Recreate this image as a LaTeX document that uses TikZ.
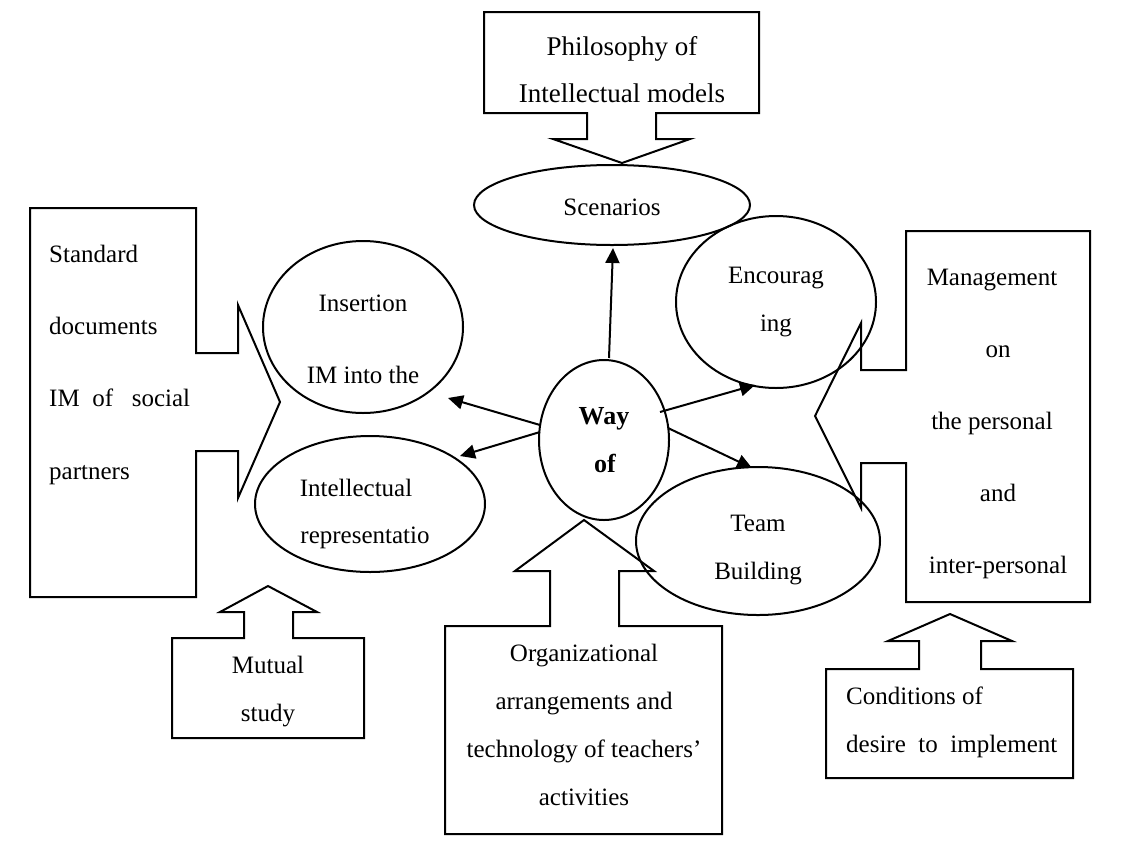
\documentclass[tikz,border=0pt]{standalone}
\usepackage{fontspec}
\setmainfont{Liberation Serif}
\usetikzlibrary{arrows.meta}
\begin{document}
\begin{tikzpicture}[x=1pt,y=-1pt,
  ln/.style={line width=2pt,line join=miter},
  ar/.style={line width=2pt,-{Triangle[length=15pt,width=14pt]}},
  t/.style={font=\fontsize{25}{28}\selectfont,inner sep=0pt,anchor=base west},
  tc/.style={font=\fontsize{25}{28}\selectfont,inner sep=0pt,anchor=base}]
\useasboundingbox (0,0) rectangle (1126,865);
% callout boxes
\draw[ln] (484,12)--(759,12)--(759,113)--(656,113)--(656,139)--(690,139)--(622,163)--(553,139)--(587,139)--(587,113)--(484,113)--cycle;
\draw[ln] (30,208)--(196,208)--(196,353)--(238,353)--(238,305)--(280,402)--(238,498)--(238,451)--(196,451)--(196,597)--(30,597)--cycle;
\draw[ln] (906,231)--(1090,231)--(1090,602)--(906,602)--(906,463)--(861,463)--(861,508)--(815,416)--(861,323)--(861,370)--(906,370)--cycle;
\draw[ln] (172,638)--(244,638)--(244,612)--(220,612)--(268,586)--(317,612)--(293,612)--(293,638)--(364,638)--(364,738)--(172,738)--cycle;
\draw[ln] (445,626)--(550,626)--(550,571)--(515,571)--(584,520)--(654,571)--(619,571)--(619,626)--(722,626)--(722,834)--(445,834)--cycle;
\draw[ln] (826,669)--(919,669)--(919,641)--(888,641)--(950,614)--(1012,641)--(981,641)--(981,669)--(1073,669)--(1073,778)--(826,778)--cycle;
% ellipses
\draw[ln] (612,205) ellipse [x radius=138,y radius=40];
\draw[ln] (363,327) ellipse [x radius=100,y radius=86];
\draw[ln] (370,504) ellipse [x radius=115,y radius=68];
\draw[ln] (604,440) ellipse [x radius=65,y radius=80];
\draw[ln] (776,302) ellipse [x radius=100,y radius=86];
\draw[ln] (758,541) ellipse [x radius=122,y radius=74];
\coordinate (w1) at (609,358); \coordinate (s1) at (613,248);
\coordinate (w2) at (540,425); \coordinate (i1) at (448,398);
\coordinate (w3) at (540,432); \coordinate (r1) at (460,456);
\coordinate (w4) at (660,412); \coordinate (e1) at (755,385);
\coordinate (w5) at (668,428); \coordinate (b1) at (752,468);
\draw[ar] (w1)--(s1);
\draw[ar] (w2)--(i1);
\draw[ar] (w3)--(r1);
\draw[ar] (w4)--(e1);
\draw[ar] (w5)--(b1);
% texts
\node[tc,font=\fontsize{27}{30}\selectfont] (p1) at (622,55) {Philosophy of};
\node[tc,font=\fontsize{27}{30}\selectfont] (p2) at (622,102) {Intellectual models};
\node[tc] (ts) at (612,215) {Scenarios};
\node[t] (a1) at (49,262) {Standard};
\node[t] (a2) at (49,334) {documents};
\node[t] (a3) at (49,406) {IM\ \ of\ \ \ social};
\node[t] (a4) at (49,479) {partners};
\node[tc] (n1) at (363,311) {Insertion};
\node[tc] (n2) at (363,383) {IM into the};
\node[tc] (r2) at (356,496) {Intellectual};
\node[tc] (r3) at (365,543) {representatio};
\node[tc,font=\bfseries\fontsize{26}{28}\selectfont] (y1) at (604,424) {Way};
\node[tc,font=\bfseries\fontsize{26}{28}\selectfont] (y2) at (605,472) {of};
\node[tc] (c1) at (776,283) {Encourag};
\node[tc] (c2) at (776,331) {ing};
\node[tc] (b2) at (758,531) {Team};
\node[tc] (b3) at (758,579) {Building};
\node[tc] (m1) at (992,285) {Management};
\node[tc] (m2) at (998,357) {on};
\node[tc] (m3) at (992,429) {the personal};
\node[tc] (m4) at (998,501) {and};
\node[tc] (m5) at (998,573) {inter-personal};
\node[tc] (u1) at (268,673) {Mutual};
\node[tc] (u2) at (268,721) {study};
\node[tc] (o1) at (584,661) {Organizational};
\node[tc] (o2) at (584,709) {arrangements and};
\node[tc] (o3) at (584,757) {technology of teachers’};
\node[tc] (o4) at (584,805) {activities};
\node[t] (d1) at (846,704) {Conditions of};
\node[t] (d2) at (846,752) {desire\ \ to\ \ implement};
\end{tikzpicture}
\end{document}
